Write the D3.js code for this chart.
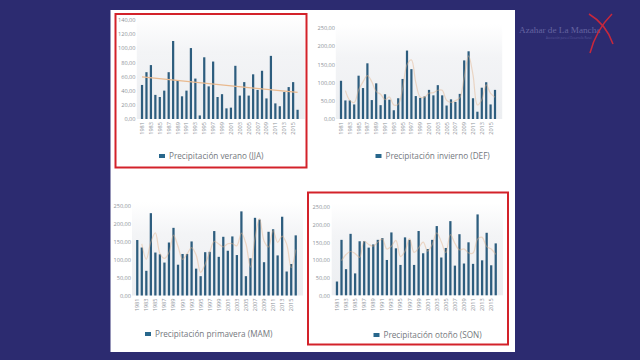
<!DOCTYPE html>
<html><head><meta charset="utf-8">
<script src="https://cdn.jsdelivr.net/npm/d3@7"></script>
<style>html,body{margin:0;padding:0;background:#2c2b70;} svg{display:block;}</style>
</head><body><svg id="c" width="640" height="360"></svg>
<script>
// ---------- DATA ----------
const years = [1981,1982,1983,1984,1985,1986,1987,1988,1989,1990,1991,1992,1993,1994,1995,1996,1997,1998,1999,2000,2001,2002,2003,2004,2005,2006,2007,2008,2009,2010,2011,2012,2013,2014,2015,2016];
const verano = [48,66,76,34,31,40,66,110,54,32,40,100,57,5,87,46,81,31,35,15,16,75,33,52,33,63,41,68,29,89,22,18,38,45,52,13];
const invierno = [105,51,51,40,119,85,153,52,98,38,68,53,24,57,110,188,137,63,58,62,80,65,93,65,37,54,47,69,161,186,57,20,86,101,40,80];
const primavera = [155,134,69,230,120,115,92,148,189,86,116,116,151,75,54,121,122,180,108,164,125,165,113,235,54,104,217,212,93,178,185,112,220,67,88,168];
const otono = [39,157,74,174,62,153,153,135,144,157,162,100,178,133,86,164,157,86,182,119,131,157,196,107,134,210,84,173,90,150,89,229,99,177,85,147];
const ticksVerano = [0,20,40,60,80,100,120,140];
const ticksOther = [0,50,100,150,200,250];
const legendVerano = "Precipitación verano (JJA)";
const legendInvierno = "Precipitación invierno (DEF)";
const legendPrimavera = "Precipitación primavera (MAM)";
const legendOtono = "Precipitación otoño (SON)";
const logoTitle = "Azahar de La Mancha";
const logoSub = "Asociación para el Desarrollo Rural";

// ---------- DRAW ----------
const svg = d3.select("#c");
const loc = d3.formatLocale({decimal:",",thousands:".",grouping:[3],currency:["","€"]});
const fmt = loc.format(".2f");
const BAR = "#2d5d7e";
const FONT = "'Open Sans', 'DejaVu Sans', sans-serif";

// white panel
svg.append("rect").attr("x",110.5).attr("y",10).attr("width",404.5).attr("height",342).attr("fill","#ffffff");

const defs = svg.append("defs");
const grad = defs.append("linearGradient").attr("id","pg").attr("x1",0).attr("y1",0).attr("x2",0).attr("y2",1);
grad.append("stop").attr("offset","0%").attr("stop-color","#ffffff");
grad.append("stop").attr("offset","35%").attr("stop-color","#f3f4f6");
grad.append("stop").attr("offset","100%").attr("stop-color","#eceef1");

function drawChart(c) {
  const g = svg.append("g");
  const x = d3.scaleBand().domain(years).range([c.x0, c.x1]).paddingInner(0.5).paddingOuter(0.25);
  const y = d3.scaleLinear().domain([0, c.ticks[c.ticks.length-1]]).range([c.y0, c.yTop]);
  g.append("rect").attr("x", c.x0 - 3).attr("y", c.yTop - 4).attr("width", c.x1 - c.x0 + 8)
    .attr("height", c.y0 - c.yTop + 4).attr("fill","url(#pg)");
  // y axis
  const ya = d3.axisLeft(y).tickValues(c.ticks).tickFormat(fmt).tickSize(0).tickPadding(0);
  const yg = g.append("g").attr("transform",`translate(${c.labelX},0)`).call(ya);
  yg.select(".domain").remove();
  yg.selectAll("text").attr("fill","#8e939a").style("font-family",FONT).style("font-size","5.6px");
  // bars
  g.selectAll("rect.bar").data(c.values).join("rect").attr("class","bar")
    .attr("x",(d,i)=>x(years[i])).attr("width",x.bandwidth())
    .attr("y",d=>y(d)).attr("height",d=>c.y0 - y(d)).attr("fill",BAR);
  // x axis
  const xa = d3.axisBottom(x).tickValues(years.filter((d,i)=>i%2===0)).tickSize(0).tickPadding(0);
  const xg = g.append("g").attr("transform",`translate(0,${c.y0})`).call(xa);
  xg.select(".domain").remove();
  xg.selectAll("text").attr("fill","#8e939a").style("font-family",FONT).style("font-size","5.6px")
    .attr("text-anchor","end").attr("dy","0.35em").attr("transform","translate(0,3) rotate(-90)").attr("y",0).attr("x",0);
  // line
  const cx = (i)=>x(years[i]) + x.bandwidth()/2;
  if (c.trend) {
    const n = c.values.length, xs = d3.range(n);
    const mx = d3.mean(xs), my = d3.mean(c.values);
    const b = d3.sum(xs,(i)=>(i-mx)*(c.values[i]-my)) / d3.sum(xs,(i)=>(i-mx)*(i-mx));
    const a = my - b*mx;
    g.append("line").attr("x1",cx(0)).attr("x2",cx(n-1)).attr("y1",y(a)).attr("y2",y(a+b*(n-1)))
      .attr("stroke","#e9b98e").attr("stroke-width",1.3);
  } else {
    const ma = c.values.map((v,i)=> i===0 ? null : (v + c.values[i-1])/2);
    const line = d3.line().defined(d=>d!==null).x((d,i)=>cx(i)).y(d=>y(d)).curve(d3.curveCatmullRom.alpha(0.5));
    g.append("path").attr("d", line(ma)).attr("fill","none").attr("stroke","rgba(226,178,138,0.45)").attr("stroke-width",1.2);
  }
  // legend
  g.append("rect").attr("x",c.legX).attr("y",c.legY-2).attr("width",6).attr("height",4).attr("fill","#28678c");
  g.append("text").attr("x",c.legX+10).attr("y",c.legY).attr("dy","0.35em").attr("fill","#74787e")
    .style("font-family",FONT).style("font-size","8.2px").text(c.legend);
}

drawChart({values:verano, ticks:ticksVerano, x0:139.8, x1:299.8, y0:119, yTop:19.7, labelX:135.5, legX:159, legY:156, legend:legendVerano, trend:true});
drawChart({values:invierno, ticks:ticksOther, x0:338.8, x1:497.2, y0:119, yTop:28, labelX:335, legX:375.5, legY:156, legend:legendInvierno});
drawChart({values:primavera, ticks:ticksOther, x0:135, x1:298, y0:295.5, yTop:206, labelX:131, legX:145, legY:334, legend:legendPrimavera});
drawChart({values:otono, ticks:ticksOther, x0:334.7, x1:498, y0:295.3, yTop:207, labelX:330, legX:373.5, legY:335, legend:legendOtono});

// red highlight boxes
svg.append("rect").attr("x",115.5).attr("y",14).attr("width",191).attr("height",153.5).attr("fill","none").attr("stroke","#d3222a").attr("stroke-width",2);
svg.append("rect").attr("x",308).attr("y",192.5).attr("width",200).attr("height",152).attr("fill","none").attr("stroke","#d3222a").attr("stroke-width",2);

// logo
svg.append("text").attr("x",519).attr("y",33).attr("fill","#6564a0").style("font-family","'Liberation Serif', serif").style("font-size","9.2px").text(logoTitle);
svg.append("text").attr("x",546).attr("y",38.5).attr("fill","#58579a").style("font-family",FONT).style("font-size","2.8px").text(logoSub);
svg.append("path").attr("d","M589,14 Q606,24 613,44").attr("fill","none").attr("stroke","#c8283c").attr("stroke-width",1.5);
svg.append("path").attr("d","M612,14 Q596,30 590,53").attr("fill","none").attr("stroke","#c8283c").attr("stroke-width",1.5);
</script></body></html>
